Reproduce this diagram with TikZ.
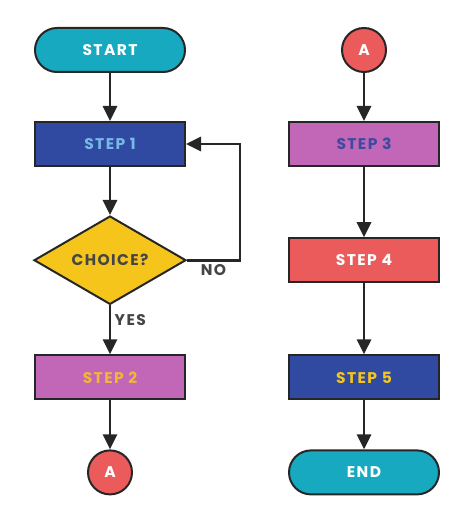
\documentclass[tikz,border=0pt]{standalone}
\usepackage{fontspec}
\setmainfont{Poppins}
\newfontfamily\flowfont[LetterSpace=9]{Poppins}
\usepackage{tikz}
\usetikzlibrary{shapes,arrows.meta,positioning,calc}

\definecolor{flowdark}{HTML}{262626}
\definecolor{flowteal}{HTML}{17A9BF}
\definecolor{flownavy}{HTML}{2F4AA0}
\definecolor{flowsky}{HTML}{78B8E8}
\definecolor{flowyellow}{HTML}{F6C51B}
\definecolor{flowpurple}{HTML}{C266B8}
\definecolor{floworange}{HTML}{F4B43A}
\definecolor{flowred}{HTML}{EC5B5B}
\definecolor{flowgray}{HTML}{454545}
\definecolor{flowink}{HTML}{3E4A9E}

\begin{document}
\begin{tikzpicture}[node distance=48pt, auto,
    font=\flowfont\bfseries\fontsize{15.5}{17}\selectfont,
    terminal/.style={rectangle, draw=flowdark, line width=2pt, fill=flowteal, text=white, minimum width=150pt, minimum height=44pt, rounded corners=22pt},
    stepbox/.style={rectangle, draw=flowdark, line width=2pt, minimum width=150pt, minimum height=44pt},
    decision/.style={diamond, draw=flowdark, line width=2pt, fill=flowyellow, text=flowgray, minimum width=152pt, minimum height=85pt, inner sep=0pt},
    connector/.style={circle, draw=flowdark, line width=2pt, fill=flowred, text=white, minimum size=44pt, inner sep=0pt},
    label/.style={text=flowgray},
    line/.style={draw=flowdark, line width=2.8pt, -{Triangle[width=14pt,length=15pt]}}]

    \useasboundingbox (0,0) rectangle (474pt,-524pt);

    % Left column
    \node [terminal] (start) at (110pt,-50pt) {START};
    \node [stepbox, fill=flownavy, text=flowsky, below=of start] (step1) {STEP 1};
    \node [decision, below=48pt of step1] (choice) {CHOICE?};
    \node [stepbox, fill=flowpurple, text=floworange, below=49pt of choice] (step2) {STEP 2};
    \node [connector, below=49pt of step2] (aout) {A};

    % Right column
    \node [connector] (ain) at (364pt,-50pt) {A};
    \node [stepbox, fill=flowpurple, text=flowink] (step3) at (ain |- step1) {STEP 3};
    \node [stepbox, fill=flowred, text=white] (step4) at (ain |- choice) {STEP 4};
    \node [stepbox, fill=flownavy, text=flowyellow] (step5) at (ain |- step2) {STEP 5};
    \node [terminal] (end) at (ain |- aout) {END};

    % Flow connections
    \path [line] (start) -- (step1);
    \path [line] (step1) -- (choice);
    \path [line] (choice) -- node [label, pos=0.3, right] {YES} (step2);
    \path [line] (step2) -- (aout);
    \path [line] (choice.east) -- node [label, below] {NO} ++(53pt,0) |- (step1.east);
    \path [line] (ain) -- (step3);
    \path [line] (step3) -- (step4);
    \path [line] (step4) -- (step5);
    \path [line] (step5) -- (end);
\end{tikzpicture}
\end{document}
